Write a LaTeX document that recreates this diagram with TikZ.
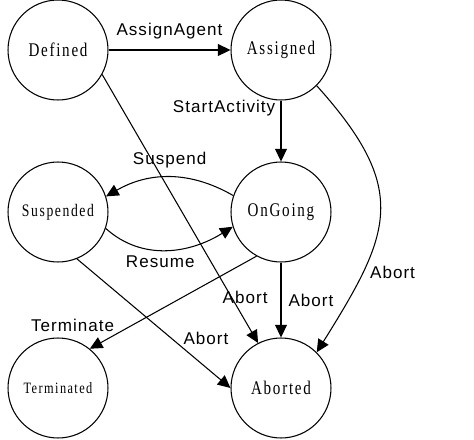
\documentclass[tikz,border=0pt]{standalone}
\usepackage{fontspec}
\setmainfont{Liberation Serif}
\newfontfamily\statefont[FakeStretch=0.78,LetterSpace=9]{Liberation Serif}
\newfontfamily\transfont[LetterSpace=6]{Liberation Sans}
\usetikzlibrary{arrows.meta}

\begin{document}
\begin{tikzpicture}[x=0.02cm,y=-0.02cm,
  state/.style={circle,draw,line width=0.6pt,minimum size=2cm,inner sep=0pt,
    font=\statefont\fontsize{11}{13}\selectfont},
  trans/.style={-{Triangle[length=7.2pt,width=6.8pt]},line width=0.6pt},
  lbl/.style={font=\transfont\fontsize{9.7}{11}\selectfont,inner sep=1pt}]
\useasboundingbox (0,0) rectangle (474,440);

\node[state] (defined) at (58,50) {Defined};
\node[state] (assigned) at (281,50) {Assigned};

\node[state,font=\statefont\fontsize{10}{12}\selectfont] (suspended) at (58,212) {Suspended};
\node[state] (ongoing) at (281,212) {OnGoing};

\node[state,font=\statefont\fontsize{9}{11}\selectfont] (terminated) at (58,388) {Terminated};
\node[state] (aborted) at (281,388) {Aborted};

\draw[trans] (defined) -- node[lbl,above=5pt] {AssignAgent} (assigned);
\draw[trans] (assigned) -- node[lbl,pos=0.13,left=2pt] {StartActivity} (ongoing);
\draw[trans] (assigned.-45) to[out=-48,in=58,looseness=1.35]
  node[lbl,pos=0.74,right=3pt] {Abort} (aborted.45);
\draw[trans] (defined.-29) -- node[lbl,pos=0.83,xshift=7.7pt] {Abort} (aborted.117);

\draw[trans] (ongoing.161) to[out=150,in=30] node[lbl,above=4pt] {Suspend} (suspended.18);
\draw[trans] (suspended.-19) to[out=-42,in=-148] node[lbl,below=2pt,xshift=-4pt] {Resume} (ongoing.-163);
\draw[trans] (ongoing) -- node[lbl,right=3pt] {Abort} (aborted);

\draw[trans] (suspended.-68) -- node[lbl,pos=0.68,above right=0pt] {Abort} (aborted.180);
\draw[trans] (ongoing.-119) -- node[lbl,pos=0.84,above left=0pt] {Terminate} (terminated.51);
\end{tikzpicture}
\end{document}
